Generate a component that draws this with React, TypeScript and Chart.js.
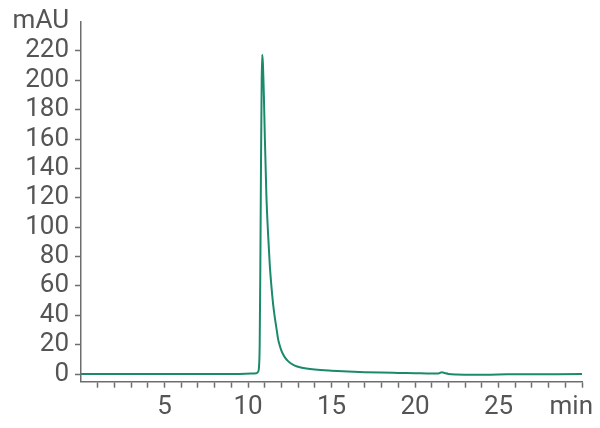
import { useEffect, useRef } from 'react';
import { Chart, registerables } from 'chart.js';

Chart.register(...registerables);

// retention time (min) and absorbance (mAU)
const times = [
  0, 2, 4, 6, 8, 9.5, 10.2, 10.5, 10.6, 10.66, 10.7, 10.74, 10.78, 10.82, 10.85,
  10.89, 10.95, 11.0, 11.1, 11.2, 11.3, 11.4, 11.5, 11.6, 11.7, 11.8, 11.9, 12.0,
  12.1, 12.23, 12.4, 12.6, 12.8, 13.0, 13.5, 14.0, 15.0, 16.0, 17.0, 18.0, 19.0,
  20.0, 21.0, 21.4, 21.6, 21.8, 22.0, 22.5, 23.5, 24.5, 25.5, 27.0, 30.0,
];
const mAU = [
  0, 0, 0, 0, 0, 0.1, 0.3, 0.6, 1.5, 5, 20, 75, 145, 200, 217.5,
  212, 190, 165, 122, 96, 75, 60, 48, 39, 31.5, 24, 19.5, 16,
  13.5, 11, 8.8, 7, 5.8, 5.0, 3.8, 3.1, 2.3, 1.7, 1.3, 1.0, 0.8,
  0.6, 0.4, 0.4, 1.2, 0.6, 0.1, -0.3, -0.5, -0.4, -0.2, -0.1, 0,
];

const yTicks = [0, 20, 40, 60, 80, 100, 120, 140, 160, 180, 200, 220, 240];
const xTicks = [0, 1, 2, 3, 4, 5, 6, 7, 8, 9, 10, 11, 12, 13, 14, 15, 16, 17, 18, 19, 20, 21, 22, 23, 24, 25, 26, 27, 28, 29, 30];
const xLabels = [5, 10, 15, 20, 25];
const yUnit = 'mAU';
const xUnit = 'min';

const lineColor = '#1b8a6b';
const axisColor = '#6e6e6e';
const textColor = '#555555';
const fontSpec = { family: 'Roboto', size: 26 };

// draws the x unit label right-aligned past the last tick
const unitPlugin = {
  id: 'xUnit',
  afterDraw(chart: any) {
    const xs = chart.scales.x;
    const ctx = chart.ctx;
    ctx.save();
    ctx.font = `${fontSpec.size}px ${fontSpec.family}`;
    ctx.fillStyle = textColor;
    ctx.textAlign = 'right';
    ctx.textBaseline = 'middle';
    ctx.fillText(xUnit, xs.getPixelForValue(30) + 11, xs.top + 10 + (fontSpec.size * 1.2) / 2);
    ctx.restore();
  },
};

export default function App() {
  const canvasRef = useRef<HTMLCanvasElement>(null);

  useEffect(() => {
    if (!canvasRef.current) return;
    const chart = new Chart(canvasRef.current, {
      type: 'line',
      data: {
        datasets: [
          {
            data: times.map((t, i) => ({ x: t, y: mAU[i] })),
            borderColor: lineColor,
            borderWidth: 2,
            pointRadius: 0,
            cubicInterpolationMode: 'monotone',
            fill: false,
          },
        ],
      },
      options: {
        animation: false,
        responsive: true,
        maintainAspectRatio: false,
        layout: { padding: { top: 18.7, right: 18, bottom: 0, left: 0 } },
        plugins: { legend: { display: false }, tooltip: { enabled: false } },
        scales: {
          x: {
            type: 'linear',
            min: 0,
            max: 30,
            afterBuildTicks: (s: any) => {
              s.ticks = xTicks.map((v) => ({ value: v }));
            },
            afterFit: (s: any) => {
              s.height = 46.3;
            },
            border: { color: axisColor, width: 1.5 },
            grid: {
              drawOnChartArea: false,
              tickLength: 6,
              tickWidth: 1.5,
              tickColor: (c: any) => (c.tick && c.tick.value === 0 ? 'rgba(0,0,0,0)' : axisColor),
            },
            ticks: {
              autoSkip: false,
              maxRotation: 0,
              padding: 4,
              color: textColor,
              font: fontSpec,
              callback: (v: any) => (xLabels.includes(v) ? String(v) : ''),
            },
          },
          y: {
            type: 'linear',
            min: -5.2,
            max: 240,
            afterBuildTicks: (s: any) => {
              s.ticks = yTicks.map((v) => ({ value: v }));
            },
            afterFit: (s: any) => {
              s.width = 81;
            },
            border: { color: axisColor, width: 1.5 },
            grid: {
              drawOnChartArea: false,
              tickLength: 6,
              tickWidth: 1.5,
              tickColor: (c: any) => (c.tick && c.tick.value === 240 ? 'rgba(0,0,0,0)' : axisColor),
            },
            ticks: {
              autoSkip: false,
              padding: 6,
              color: textColor,
              font: fontSpec,
              callback: (v: any) => (v === 240 ? yUnit : String(v)),
            },
          },
        },
      },
      plugins: [unitPlugin],
    });
    return () => chart.destroy();
  }, []);

  return (
    <div style={{ position: 'absolute', left: 0, top: 0, width: 600, height: 428, background: '#fff' }}>
      <canvas ref={canvasRef}></canvas>
    </div>
  );
}
